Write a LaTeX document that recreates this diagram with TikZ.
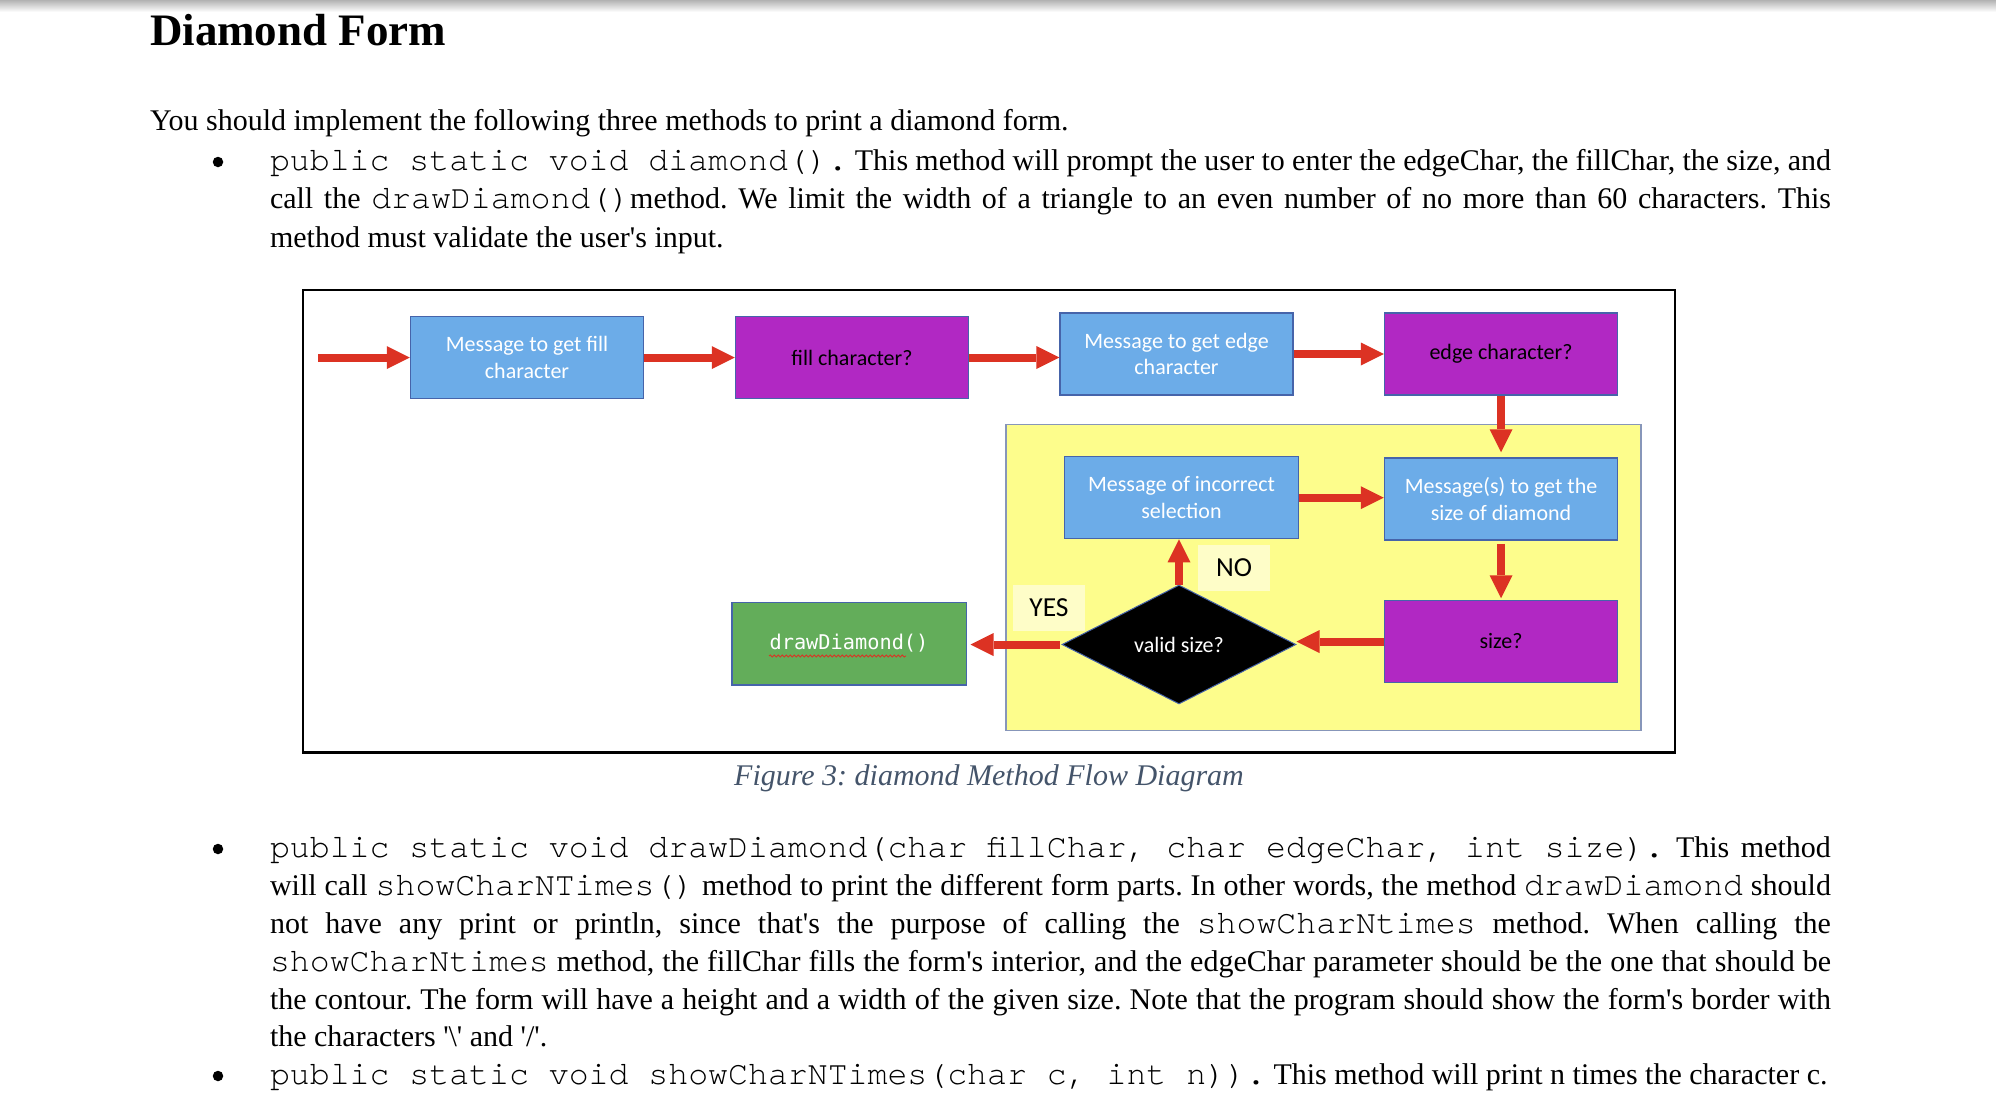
\documentclass[tikz,border=0pt]{standalone}
\usepackage{fontspec}
\setmainfont{Liberation Serif}
\setmonofont{texgyrecursor-regular.otf}
\newfontfamily\calfont{Carlito}
\newfontfamily\dmono{DejaVu Sans Mono}
\usetikzlibrary{shapes.geometric,arrows.meta,decorations.pathmorphing}
\definecolor{boxblue}{RGB}{108,172,232}
\definecolor{boxborder}{RGB}{70,100,170}
\definecolor{boxpurple}{RGB}{177,40,195}
\definecolor{boxgreen}{RGB}{99,173,90}
\definecolor{zoneyellow}{RGB}{253,253,140}
\definecolor{zoneborder}{RGB}{135,150,185}
\definecolor{arrowred}{RGB}{220,50,35}
\definecolor{lblbg}{RGB}{254,253,200}
\definecolor{captioncol}{RGB}{68,84,106}
\newcommand\cd[1]{{\ttfamily\fontsize{33.2}{38}\selectfont #1}}
\newcommand\jl[1]{\makebox[1561pt][s]{#1}}
\newcommand\sq{\textquotesingle}
\frenchspacing
\begin{document}
\frenchspacing
\begin{tikzpicture}[x=1pt,y=-1pt,
  txt/.style={anchor=base west, inner sep=0pt, outer sep=0pt, font=\fontsize{30}{38}\selectfont\frenchspacing},
  bul/.style={circle, fill=black, inner sep=0pt, minimum size=10.5pt},
  flowbox/.style={draw=boxborder, line width=1.5pt, fill=boxblue, text=white,
    minimum width=233pt, minimum height=82pt, align=center, inner sep=0pt,
    font=\calfont\fontsize{22}{26.7}\selectfont},
  askbox/.style={flowbox, fill=boxpurple, text=black},
  endbox/.style={flowbox, fill=boxgreen, font=\dmono\fontsize{20.3}{24}\selectfont},
  decision/.style={diamond, draw=boxborder, line width=1pt, fill=black, text=white,
    minimum width=234pt, minimum height=119pt, inner sep=0pt,
    font=\calfont\fontsize{22}{26}\selectfont},
  lbl/.style={fill=lblbg, minimum width=72pt, minimum height=46pt, inner sep=0pt,
    font=\calfont\fontsize{27.5}{30}\selectfont},
  flow/.style={draw=arrowred, line width=8pt, -{Triangle[length=23pt,width=23pt,line width=0pt]}}
]
\useasboundingbox (0,0) rectangle (1996,1103);
\fill[white] (0,0) rectangle (1996,1103);
\shade[top color=black!30, bottom color=white] (0,0) rectangle (1996,12);

% ---- text above ----
\node[txt, font=\bfseries\fontsize{45}{50}\selectfont] (title) at (150,45) {Diamond Form};
\node[txt] (intro) at (150,130.5) {You should implement the following three methods to print a diamond form.};
\node[bul] (b1) at (218,162) {};
\node[txt] (l11) at (270,170) {\jl{\cd{public static void diamond().} This method will prompt the user to enter the edgeChar, the fillChar, the size, and}};
\node[txt] (l12) at (270,208.5) {\jl{call the \cd{drawDiamond()}method. We limit the width of a triangle to an even number of no more than 60 characters. This}};
\node[txt] (l13) at (270,247) {method must validate the user\sq s input.};

% ---- figure ----
\draw[line width=2.5pt] (303,290) rectangle (1675,752.5);
\draw[fill=zoneyellow, draw=zoneborder, line width=1.2pt] (1006,424.3) rectangle (1641,730.7);

\node[flowbox] (msgfill) at (527,357.5) {Message to get fill\\character};
\node[askbox] (askfill) at (852,357.5) {fill character?};
\node[flowbox] (msgedge) at (1176.5,354) {Message to get edge\\character};
\node[askbox] (askedge) at (1501,354) {edge character?};
\node[flowbox] (msgsize) at (1501,499) {Message(s) to get the\\size of diamond};
\node[flowbox, minimum width=234pt] (msgbad) at (1181.5,497.7) {Message of incorrect\\selection};
\node[askbox] (asksize) at (1501,641.5) {size?};
\node[decision] (valid) at (1179,644.5) {valid size?};
\node[endbox, minimum width=234.5pt, minimum height=82.5pt] (draw) at (849,643.5) {drawDiamond()};
\draw[arrowred, line width=0.8pt, decorate, decoration={snake, amplitude=1.1pt, segment length=4pt}]
  ([xshift=-80pt,yshift=-12.5pt]draw.center) -- ([xshift=57pt,yshift=-12.5pt]draw.center);

\node[lbl] (yes) at (1049,608) {YES};
\node[lbl] (no) at (1234,567.5) {NO};

\coordinate (entry) at (318,357.5);
\draw[flow] (entry) -- (msgfill);
\draw[flow] (msgfill) -- (askfill);
\draw[flow] (askfill.east) -- (askfill.east -| msgedge.west);
\draw[flow] (msgedge) -- (askedge);
\draw[flow, shorten >=5pt] (askedge) -- (msgsize);
\draw[flow] (msgbad.east) -- (msgbad.east -| msgsize.west);
\draw[flow, shorten <=3pt, shorten >=1.5pt] (msgsize) -- (asksize);
\draw[flow] (asksize.west) -- (asksize.west -| valid.east);
\draw[flow] (valid.north) -- (valid.north |- msgbad.south);
\draw[flow, shorten <=2pt, shorten >=3.5pt] (valid.west) -- (valid.west -| draw.east);

\node[anchor=base, inner sep=0pt, text=captioncol, font=\itshape\fontsize{30}{36}\selectfont] (cap) at (989,785) {Figure 3: diamond Method Flow Diagram};

% ---- text below ----
\node[bul] (b2) at (218,849) {};
\node[txt] (l21) at (270,857.5) {\jl{\cd{public static void drawDiamond(char fillChar, char edgeChar, int size).} This method}};
\node[txt] (l22) at (270,895.5) {\jl{will call \cd{showCharNTimes()} method to print the different form parts. In other words, the method \cd{drawDiamond} should}};
\node[txt] (l23) at (270,933.5) {\jl{not have any print or println, since that\sq s the purpose of calling the \cd{showCharNtimes} method. When calling the}};
\node[txt] (l24) at (270,971.5) {\jl{\cd{showCharNtimes} method, the fillChar fills the form\sq s interior, and the edgeChar parameter should be the one that should be}};
\node[txt] (l25) at (270,1009.5) {\jl{the contour. The form will have a height and a width of the given size. Note that the program should show the form\sq s border with}};
\node[txt] (l26) at (270,1046.5) {the characters \sq\textbackslash\sq{} and \sq/\sq.};
\node[bul] (b3) at (218,1076) {};
\node[txt] (l31) at (270,1084.5) {\cd{public static void showCharNTimes(char c, int n)).} This method will print n times the character c.};
\end{tikzpicture}
\end{document}
